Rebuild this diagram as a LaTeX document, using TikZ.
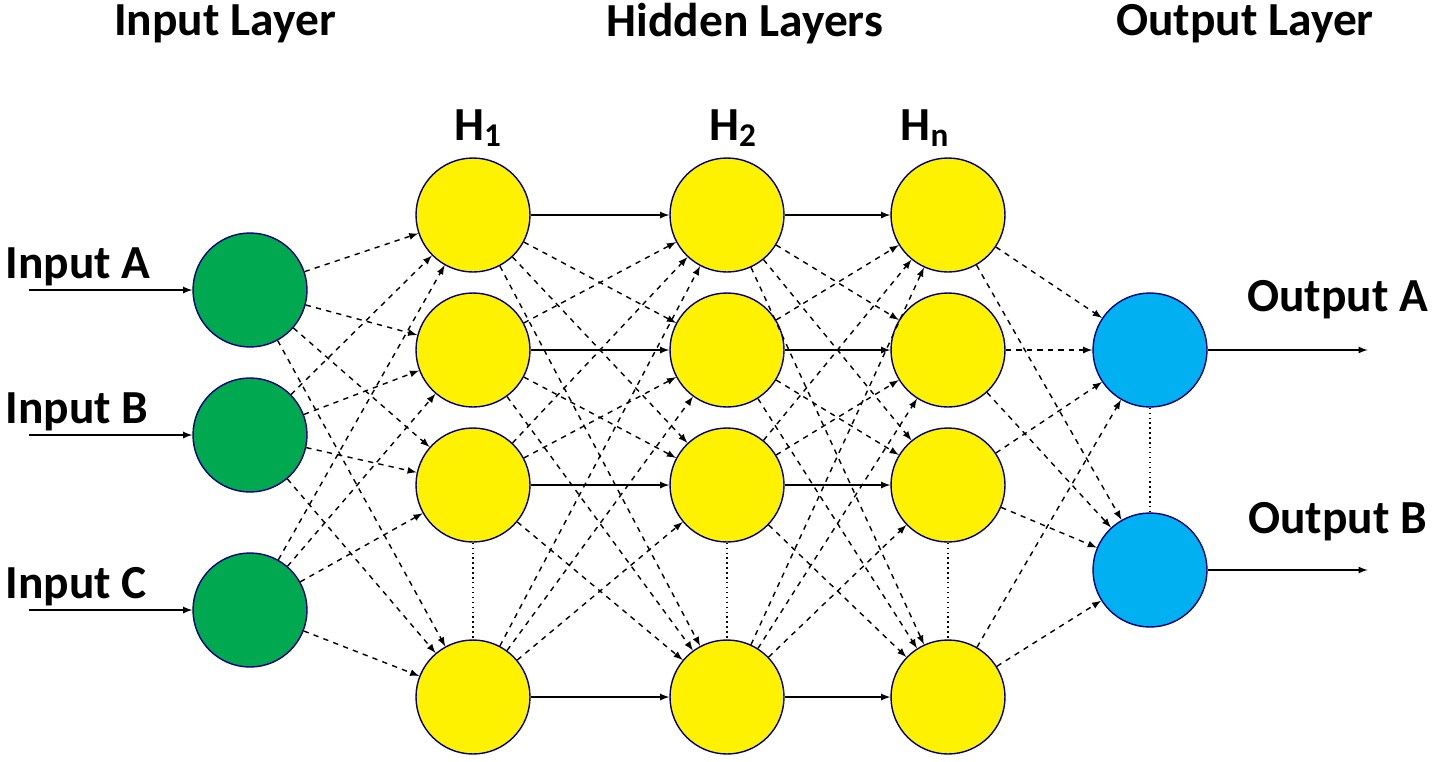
\documentclass[tikz,border=0pt]{standalone}
\usepackage{fontspec}
\setmainfont{Carlito}
\definecolor{ingreen}{RGB}{0,168,80}
\definecolor{outblue}{RGB}{0,176,240}
\begin{document}
\begin{tikzpicture}[x=0.02cm,y=-0.02cm]
    \tikzstyle{neuron}=[circle,draw=blue!50!black,thick,minimum size=2.28cm,inner sep=0pt]
    \tikzstyle{lbl}=[font=\fontsize{27}{30}\selectfont\bfseries]
    \tikzstyle{links}=[-latex,thick,dashed]
    \tikzstyle{straight}=[-latex,thick]
    \useasboundingbox (0,0) rectangle (1450,761);
    % layer titles
    \node[lbl] (tin) at (225,24) {Input Layer};
    \node[lbl] (thid) at (745,24) {Hidden Layers};
    \node[lbl] (tout) at (1245,24) {Output Layer};
    \node[lbl] (th1) at (478,128) {H\textsubscript{1}};
    \node[lbl] (th2) at (733,128) {H\textsubscript{2}};
    \node[lbl] (thn) at (925,128) {H\textsubscript{n}};
    % neurons
    \foreach \n/\y in {1/290,2/435,3/610}
        \node[neuron,fill=ingreen] (i\n) at (250,\y) {};
    \foreach \l/\x in {1/473,2/727,3/948}
        \foreach \n/\y in {1/215,2/350,3/485,4/697}
            \node[neuron,fill=yellow] (h\l\n) at (\x,\y) {};
    \node[neuron,fill=outblue] (o1) at (1150,350) {};
    \node[neuron,fill=outblue] (o2) at (1150,570) {};
    % inputs and outputs
    \foreach \n/\t in {1/A,2/B,3/C} {
        \coordinate (s\n) at ([xshift=-3.26cm]i\n.west);
        \draw[straight] (s\n) -- (i\n);
        \node[lbl,anchor=south west] (l\n) at ([xshift=-0.6cm,yshift=-0.05cm]s\n.center) {Input \t};
    }
    \foreach \n/\t/\d in {1/A/50,2/B/48} {
        \coordinate (e\n) at ([xshift=3.2cm]o\n.east);
        \draw[straight] (o\n) -- (e\n);
        \node[lbl] (m\n) at ([xshift=-0.6cm,yshift=\d*0.02cm]e\n) {Output \t};
    }
    % connections
    \foreach \a in {1,2,3}
        \foreach \b in {1,2,3,4}
            \draw[links] (i\a) -- (h1\b);
    \foreach \p/\q in {1/2,2/3}
        \foreach \a in {1,2,3,4}
            \foreach \b in {1,2,3,4} {
                \ifnum\a=\b
                    \draw[straight] (h\p\a) -- (h\q\b);
                \else
                    \draw[links] (h\p\a) -- (h\q\b);
                \fi
            }
    \foreach \a in {1,2,3,4}
        \foreach \b in {1,2}
            \draw[links] (h3\a) -- (o\b);
    % dotted gaps
    \foreach \l in {1,2,3}
        \draw[dotted,thick] (h\l3) -- (h\l4);
    \draw[dotted,thick] (o1) -- (o2);
\end{tikzpicture}
\end{document}
